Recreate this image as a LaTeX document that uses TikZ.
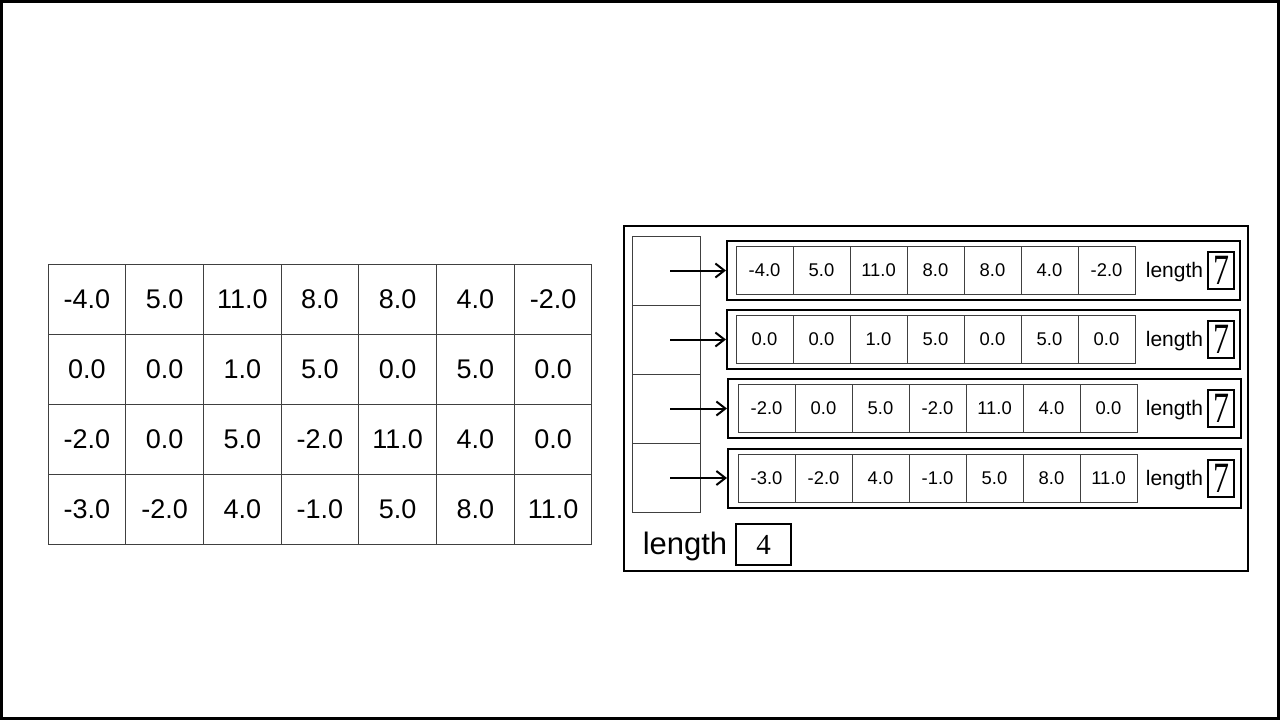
\documentclass[tikz,border=0pt]{standalone}
\usepackage{fontspec}
\setmainfont{Liberation Sans}
\newfontfamily\digitfont{Liberation Serif}
\usetikzlibrary{arrows.meta}

\tikzset{
  bigcell/.style={draw=black!75, line width=0.5pt, minimum width=38.85pt, minimum height=35pt, inner sep=0pt, font=\fontsize{13.5}{15}\selectfont},
  smallcell/.style={draw=black!75, line width=0.5pt, minimum width=28.5pt, minimum height=24pt, inner sep=0pt, font=\fontsize{9.2}{11}\selectfont},
  ptrcell/.style={draw=black!75, line width=0.5pt, minimum width=34pt, minimum height=34.5pt, inner sep=0pt},
  rowbox/.style={draw, line width=1pt, minimum width=256.5pt, minimum height=29.5pt, inner sep=0pt},
  lenbox/.style={draw, line width=1pt, minimum width=13pt, minimum height=18.5pt, inner sep=0pt, font=\digitfont\fontsize{16}{18}\selectfont},
  ptr/.style={line width=1pt, shorten <=2pt, -{Straight Barb[length=4.5pt,width=7pt]}}
}

\begin{document}
\begin{tikzpicture}[x=0.5pt,y=0.5pt,yscale=-1,xscale=1]
  \useasboundingbox (0,0) rectangle (1280,720);
  %Shape: frame
  \draw [line width=1.5pt] (1.5,1.5) rectangle (1278.5,718.5);

  %Left matrix
  \foreach \v [count=\c] in {-4.0,5.0,11.0,8.0,8.0,4.0,-2.0}
    \node [bigcell] (m1-\c) at ({48+77.71*(\c-0.5)},299) {\v};
  \foreach \v [count=\c] in {0.0,0.0,1.0,5.0,0.0,5.0,0.0}
    \node [bigcell] (m2-\c) at ({48+77.71*(\c-0.5)},369) {\v};
  \foreach \v [count=\c] in {-2.0,0.0,5.0,-2.0,11.0,4.0,0.0}
    \node [bigcell] (m3-\c) at ({48+77.71*(\c-0.5)},439) {\v};
  \foreach \v [count=\c] in {-3.0,-2.0,4.0,-1.0,5.0,8.0,11.0}
    \node [bigcell] (m4-\c) at ({48+77.71*(\c-0.5)},509) {\v};

  %Shape: outer array box
  \node [draw, line width=1pt, minimum width=312pt, minimum height=172.5pt, inner sep=0pt] (outer) at (936,398.5) {};

  %Pointer column
  \node [ptrcell] (p1) at (666,270.5) {};
  \node [ptrcell] (p2) at (666,339.5) {};
  \node [ptrcell] (p3) at (666,408.5) {};
  \node [ptrcell] (p4) at (666,478) {};

  %Row boxes
  \node [rowbox] (r1) at (983.5,270.5) {};
  \node [rowbox] (r2) at (983.5,339.5) {};
  \node [rowbox] (r3) at (984.5,408.5) {};
  \node [rowbox] (r4) at (984.5,478) {};

  \foreach \v [count=\c] in {-4.0,5.0,11.0,8.0,8.0,4.0,-2.0}
    \node [smallcell] (a1-\c) at ({736+57*(\c-0.5)},270.5) {\v};
  \foreach \v [count=\c] in {0.0,0.0,1.0,5.0,0.0,5.0,0.0}
    \node [smallcell] (a2-\c) at ({736+57*(\c-0.5)},339.5) {\v};
  \foreach \v [count=\c] in {-2.0,0.0,5.0,-2.0,11.0,4.0,0.0}
    \node [smallcell] (a3-\c) at ({738+57*(\c-0.5)},408.5) {\v};
  \foreach \v [count=\c] in {-3.0,-2.0,4.0,-1.0,5.0,8.0,11.0}
    \node [smallcell] (a4-\c) at ({738+57*(\c-0.5)},478) {\v};

  % Text Node
  \foreach \i/\y in {1/270.5,2/339.5,3/408.5,4/478} {
    \node [anchor=base, font=\fontsize{10.5}{12}\selectfont] (len\i) at (1174.5,\y+7) {length};
    \node [lenbox] (n\i) at (1221,\y) {\scalebox{1}[1.35]{7}};
  }

  %Straight Lines
  \draw [ptr] (p1.center) -- (r1.west);
  \draw [ptr] (p2.center) -- (r2.west);
  \draw [ptr] (p3.center) -- (r3.west);
  \draw [ptr] (p4.center) -- (r4.west);

  % Text Node
  \node [anchor=base, font=\fontsize{15.5}{17}\selectfont] (len) at (685,554) {length};
  \node [draw, line width=1pt, minimum width=27.5pt, minimum height=20.5pt, inner sep=0pt, font=\digitfont\fontsize{14.5}{16}\selectfont] (n) at (763.5,544.5) {4};
\end{tikzpicture}
\end{document}
